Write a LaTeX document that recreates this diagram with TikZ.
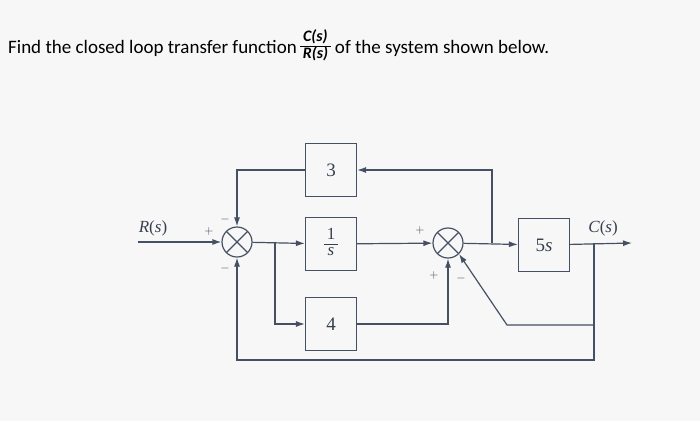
\documentclass[tikz,border=0pt]{standalone}
\usepackage{fontspec}
\setmainfont{Liberation Serif}
\newfontfamily\titlefont{Carlito}
\usetikzlibrary{arrows.meta}
\definecolor{ln}{RGB}{70,80,100}
\newcommand\myfrac[4]{\raisebox{#4}{\setlength{\arrayrulewidth}{#3}\renewcommand{\arraystretch}{0.85}\begin{tabular}[c]{@{\,}c@{\,}}#1\\\hline #2\end{tabular}}}
\begin{document}
\begin{tikzpicture}[x=1pt,y=-1pt,
  blk/.style={draw=ln,line width=1.2pt,minimum width=51pt,minimum height=53pt,inner sep=0pt,font=\fontsize{19}{19}\selectfont,text=ln!80!black},
  sj/.style={draw=ln,line width=1.2pt,circle,minimum size=30pt,inner sep=0pt,path picture={\draw[ln,line width=1.2pt] (path picture bounding box.north west)--(path picture bounding box.south east) (path picture bounding box.north east)--(path picture bounding box.south west);}},
  w/.style={draw=ln,line width=1.2pt},
  a/.style={w,-{Latex[length=9pt,width=6pt]}},
  lbl/.style={font=\fontsize{17}{17}\selectfont,text=ln!80!black},
  sg/.style={font=\fontsize{12}{12}\selectfont,text=ln!80!black}]
\useasboundingbox (0,0) rectangle (700,421);
\fill[gray!6] (0,0) rectangle (700,421);
\node[anchor=base west,inner sep=0pt,font=\titlefont\fontsize{19}{19}\selectfont] (title) at (8,53) {Find the closed loop transfer function\,{\fontsize{16}{16}\selectfont\bfseries\itshape\myfrac{C(s)}{R(s)}{0.9pt}{0.15em}} of the system shown below.};
\node[sj] (s1) at (237,242) {};
\node[sj] (s2) at (448,243) {};
\node[blk] (b3) at (331,170) {3};
\node[blk] (bs) at (331,244) {\fontsize{17}{17}\selectfont\myfrac{1}{\itshape s}{0.8pt}{0pt}};
\node[blk] (b4) at (331,324) {4};
\node[blk] (b5) at (544,245) {5\textit{s}};
\coordinate (rin) at (138,242);
\coordinate (cout) at (632,243);
\coordinate (t1) at (492,243);
\coordinate (t2) at (275,242);
\coordinate (t3) at (594,243);
\node[lbl] (rl) at (153,228) {\textit{R}(\textit{s})};
\node[lbl] (cl) at (603,228) {\textit{C}(\textit{s})};
\draw[a] (rin) -- (s1);
\draw[a] (s1) -- (bs);
\draw[a] (t2) |- (b4);
\draw[a] (bs) -- (s2);
\draw[a] (b4.east) -| (s2.south);
\draw[a] (s2) -- (b5);
\draw[a] (t1) |- (b3.east);
\draw[a] (b3.west) -| (s1.north);
\draw[a] (b5) -- (cout);
\coordinate (bl) at (594,360);
\coordinate (ml) at (594,325);
\coordinate (md) at (507,325);
\draw[a] (t3) -- (bl) -| (s1.south);
\draw[a] (ml) -- (md) -- (s2.south east);
\node[sg] (p1) at (209,231) {$+$};
\node[sg] (m1) at (225,219) {$-$};
\node[sg] (m2) at (225,268) {$-$};
\node[sg] (p2) at (420,230) {$+$};
\node[sg] (p3) at (434,275) {$+$};
\node[sg] (m3) at (461,278) {$-$};
\end{tikzpicture}
\end{document}
